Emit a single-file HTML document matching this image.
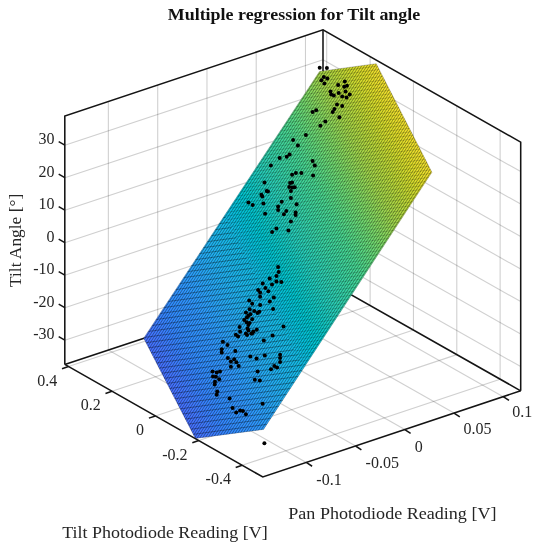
<!DOCTYPE html>
<html><head><meta charset="utf-8"><title>Multiple regression for Tilt angle</title>
<style>
html,body{margin:0;padding:0;background:#fff}
svg{display:block;font-family:"Liberation Serif",serif}
.g{stroke:#000;stroke-opacity:.19;stroke-width:1.1;fill:none}
.b{stroke:#141414;stroke-width:1.55;fill:none;stroke-linejoin:miter}
</style></head><body>
<svg width="539" height="550" viewBox="0 0 539 550">
<rect width="539" height="550" fill="#fff"/>
<g><line class="g" x1="306.3" y1="462.46" x2="108.35" y2="349.98"/><line class="g" x1="108.35" y1="349.98" x2="108.35" y2="101.28"/><line class="g" x1="355.6" y1="445.98" x2="157.71" y2="333.63"/><line class="g" x1="157.71" y1="333.63" x2="157.71" y2="84.93"/><line class="g" x1="404.8" y1="429.54" x2="206.97" y2="317.32"/><line class="g" x1="206.97" y1="317.32" x2="206.97" y2="68.62"/><line class="g" x1="454" y1="413.09" x2="256.22" y2="301.01"/><line class="g" x1="256.22" y1="301.01" x2="256.22" y2="52.31"/><line class="g" x1="503.2" y1="396.65" x2="305.48" y2="284.7"/><line class="g" x1="305.48" y1="284.7" x2="305.48" y2="36"/><line class="g" x1="68.5" y1="366.5" x2="326.69" y2="280.99"/><line class="g" x1="326.69" y1="280.99" x2="326.69" y2="32.29"/><line class="g" x1="112" y1="391.24" x2="370.13" y2="305.58"/><line class="g" x1="370.13" y1="305.58" x2="370.13" y2="56.88"/><line class="g" x1="155.4" y1="415.92" x2="413.46" y2="330.1"/><line class="g" x1="413.46" y1="330.1" x2="413.46" y2="81.4"/><line class="g" x1="198.8" y1="440.6" x2="456.8" y2="354.63"/><line class="g" x1="456.8" y1="354.63" x2="456.8" y2="105.93"/><line class="g" x1="242.2" y1="465.29" x2="500.13" y2="379.16"/><line class="g" x1="500.13" y1="379.16" x2="500.13" y2="130.46"/><line class="g" x1="64.8" y1="145.2" x2="323" y2="59.7"/><line class="g" x1="323" y1="59.7" x2="520.7" y2="171.6"/><line class="g" x1="64.8" y1="177.7" x2="323" y2="92.2"/><line class="g" x1="323" y1="92.2" x2="520.7" y2="204.1"/><line class="g" x1="64.8" y1="210.2" x2="323" y2="124.7"/><line class="g" x1="323" y1="124.7" x2="520.7" y2="236.6"/><line class="g" x1="64.8" y1="242.7" x2="323" y2="157.2"/><line class="g" x1="323" y1="157.2" x2="520.7" y2="269.1"/><line class="g" x1="64.8" y1="275.2" x2="323" y2="189.7"/><line class="g" x1="323" y1="189.7" x2="520.7" y2="301.6"/><line class="g" x1="64.8" y1="307.7" x2="323" y2="222.2"/><line class="g" x1="323" y1="222.2" x2="520.7" y2="334.1"/><line class="g" x1="64.8" y1="340.2" x2="323" y2="254.7"/><line class="g" x1="323" y1="254.7" x2="520.7" y2="366.6"/></g>
<g><polyline class="b" points="64.8,364.4 64.8,116.1 323,29.8 520.7,142.2 520.7,390.8"/><polyline class="b" points="64.8,364.4 323,278.9 520.7,390.8"/><line class="b" x1="323" y1="278.9" x2="323" y2="29.8"/></g>
<defs><linearGradient id="pg" gradientUnits="userSpaceOnUse" x1="143.7" y1="338.2" x2="438.91" y2="185.88"><stop offset="0" stop-color="#4770ff"/><stop offset="0.04" stop-color="#407aff"/><stop offset="0.08" stop-color="#3684ff"/><stop offset="0.12" stop-color="#318eff"/><stop offset="0.17" stop-color="#3096ff"/><stop offset="0.21" stop-color="#2c9ffd"/><stop offset="0.25" stop-color="#28a7f7"/><stop offset="0.29" stop-color="#23aff3"/><stop offset="0.33" stop-color="#1db6ee"/><stop offset="0.38" stop-color="#15bce7"/><stop offset="0.42" stop-color="#06c2dd"/><stop offset="0.46" stop-color="#02c7d2"/><stop offset="0.5" stop-color="#11cbc7"/><stop offset="0.54" stop-color="#25cfbc"/><stop offset="0.58" stop-color="#31d2af"/><stop offset="0.62" stop-color="#3bd6a2"/><stop offset="0.67" stop-color="#49d993"/><stop offset="0.71" stop-color="#5ddb82"/><stop offset="0.75" stop-color="#73db70"/><stop offset="0.79" stop-color="#8bda5e"/><stop offset="0.83" stop-color="#a3d84c"/><stop offset="0.88" stop-color="#bada3b"/><stop offset="0.92" stop-color="#cfdd2f"/><stop offset="0.96" stop-color="#e3e02a"/><stop offset="1" stop-color="#f4e32f"/></linearGradient><clipPath id="cp"><polygon points="143.7,338.2 319.5,71.4 376.2,63.7 431.9,172.3 263.5,429.4 195.4,438.4"/></clipPath></defs>
<polygon points="143.7,338.2 319.5,71.4 376.2,63.7 431.9,172.3 263.5,429.4 195.4,438.4" fill="url(#pg)"/>
<defs><clipPath id="c1"><polygon points="143.7,338.2 224.74,215.21 303.64,368.12 263.5,429.4 195.4,438.4"/></clipPath><clipPath id="c2"><polygon points="224.74,215.21 319.5,71.4 376.2,63.7 431.9,172.3 303.64,368.12"/></clipPath></defs>
<g clip-path="url(#c1)" fill="none" stroke="#000"><path d="M-127.15 200L-291.41 450M-124.48 200L-288.74 450M-121.81 200L-286.07 450M-119.14 200L-283.4 450M-116.47 200L-280.73 450M-113.8 200L-278.06 450M-111.13 200L-275.39 450M-108.46 200L-272.72 450M-105.79 200L-270.05 450M-103.12 200L-267.38 450M-100.45 200L-264.71 450M-97.78 200L-262.04 450M-95.11 200L-259.37 450M-92.44 200L-256.7 450M-89.77 200L-254.03 450M-87.1 200L-251.36 450M-84.43 200L-248.69 450M-81.76 200L-246.02 450M-79.09 200L-243.35 450M-76.42 200L-240.68 450M-73.75 200L-238.01 450M-71.08 200L-235.34 450M-68.41 200L-232.67 450M-65.74 200L-230 450M-63.07 200L-227.33 450M-60.4 200L-224.66 450M-57.73 200L-221.99 450M-55.06 200L-219.32 450M-52.39 200L-216.65 450M-49.72 200L-213.98 450M-47.05 200L-211.31 450M-44.38 200L-208.64 450M-41.71 200L-205.97 450M-39.04 200L-203.3 450M-36.37 200L-200.63 450M-33.7 200L-197.96 450M-31.03 200L-195.29 450M-28.36 200L-192.62 450M-25.69 200L-189.95 450M-23.02 200L-187.28 450M-20.35 200L-184.61 450M-17.68 200L-181.94 450M-15.01 200L-179.27 450M-12.34 200L-176.6 450M-9.67 200L-173.93 450M-7 200L-171.26 450M-4.33 200L-168.59 450M-1.66 200L-165.92 450M1.01 200L-163.25 450M3.68 200L-160.58 450M6.35 200L-157.91 450M9.02 200L-155.24 450M11.69 200L-152.57 450M14.36 200L-149.9 450M17.03 200L-147.23 450M19.7 200L-144.56 450M22.37 200L-141.89 450M25.04 200L-139.22 450M27.71 200L-136.55 450M30.38 200L-133.88 450M33.05 200L-131.21 450M35.72 200L-128.54 450M38.39 200L-125.87 450M41.06 200L-123.2 450M43.73 200L-120.53 450M46.4 200L-117.86 450M49.07 200L-115.19 450M51.74 200L-112.52 450M54.41 200L-109.85 450M57.08 200L-107.18 450M59.75 200L-104.51 450M62.42 200L-101.84 450M65.09 200L-99.17 450M67.76 200L-96.5 450M70.43 200L-93.83 450M73.1 200L-91.16 450M75.77 200L-88.49 450M78.44 200L-85.82 450M81.11 200L-83.15 450M83.78 200L-80.48 450M86.45 200L-77.81 450M89.12 200L-75.14 450M91.79 200L-72.47 450M94.46 200L-69.8 450M97.13 200L-67.13 450M99.8 200L-64.46 450M102.47 200L-61.79 450M105.14 200L-59.12 450M107.81 200L-56.45 450M110.48 200L-53.78 450M113.15 200L-51.11 450M115.82 200L-48.44 450M118.49 200L-45.77 450M121.16 200L-43.1 450M123.83 200L-40.43 450M126.5 200L-37.76 450M129.17 200L-35.09 450M131.84 200L-32.42 450M134.51 200L-29.75 450M137.18 200L-27.08 450M139.85 200L-24.41 450M142.52 200L-21.74 450M145.19 200L-19.07 450M147.86 200L-16.4 450M150.53 200L-13.73 450M153.2 200L-11.06 450M155.87 200L-8.39 450M158.54 200L-5.72 450M161.21 200L-3.05 450M163.88 200L-0.38 450M166.55 200L2.29 450M169.22 200L4.96 450M171.89 200L7.63 450M174.56 200L10.3 450M177.23 200L12.97 450M179.9 200L15.64 450M182.57 200L18.31 450M185.24 200L20.98 450M187.91 200L23.65 450M190.58 200L26.32 450M193.25 200L28.99 450M195.92 200L31.66 450M198.59 200L34.33 450M201.26 200L37 450M203.93 200L39.67 450M206.6 200L42.34 450M209.27 200L45.01 450M211.94 200L47.68 450M214.61 200L50.35 450M217.28 200L53.02 450M219.95 200L55.69 450M222.62 200L58.36 450M225.29 200L61.03 450M227.96 200L63.7 450M230.63 200L66.37 450M233.3 200L69.04 450M235.97 200L71.71 450M238.64 200L74.38 450M241.31 200L77.05 450M243.98 200L79.72 450M246.65 200L82.39 450M249.32 200L85.06 450M251.99 200L87.73 450M254.66 200L90.4 450M257.33 200L93.07 450M260 200L95.74 450M262.67 200L98.41 450M265.34 200L101.08 450M268.01 200L103.75 450M270.68 200L106.42 450M273.35 200L109.09 450M276.02 200L111.76 450M278.69 200L114.43 450M281.36 200L117.1 450M284.03 200L119.77 450M286.7 200L122.44 450M289.37 200L125.11 450M292.04 200L127.78 450M294.71 200L130.45 450M297.38 200L133.12 450M300.05 200L135.79 450M302.72 200L138.46 450M305.39 200L141.13 450M308.06 200L143.8 450M310.73 200L146.47 450M313.4 200L149.14 450M316.07 200L151.81 450M318.74 200L154.48 450M321.41 200L157.15 450M324.08 200L159.82 450M326.75 200L162.49 450M329.42 200L165.16 450M332.09 200L167.83 450M334.76 200L170.5 450M337.43 200L173.17 450M340.1 200L175.84 450M342.77 200L178.51 450M345.44 200L181.18 450M348.11 200L183.85 450M350.78 200L186.52 450M353.45 200L189.19 450M356.12 200L191.86 450M358.79 200L194.53 450M361.46 200L197.2 450M364.13 200L199.87 450M366.8 200L202.54 450M369.47 200L205.21 450M372.14 200L207.88 450M374.81 200L210.55 450M377.48 200L213.22 450M380.15 200L215.89 450M382.82 200L218.56 450M385.49 200L221.23 450M388.16 200L223.9 450M390.83 200L226.57 450M393.5 200L229.24 450M396.17 200L231.91 450M398.84 200L234.58 450M401.51 200L237.25 450M404.18 200L239.92 450M406.85 200L242.59 450M409.52 200L245.26 450M412.19 200L247.93 450M414.86 200L250.6 450M417.53 200L253.27 450M420.2 200L255.94 450M422.87 200L258.61 450M425.54 200L261.28 450M428.21 200L263.95 450M430.88 200L266.62 450M433.55 200L269.29 450M436.22 200L271.96 450M438.89 200L274.63 450M441.56 200L277.3 450M444.23 200L279.97 450M446.9 200L282.64 450M449.57 200L285.31 450M452.24 200L287.98 450M454.91 200L290.65 450M457.58 200L293.32 450M460.25 200L295.99 450M462.92 200L298.66 450M465.59 200L301.33 450M468.26 200L304 450M470.93 200L306.67 450M473.6 200L309.34 450M476.27 200L312.01 450M478.94 200L314.68 450M481.61 200L317.35 450M484.28 200L320.02 450M486.95 200L322.69 450M489.62 200L325.36 450M492.29 200L328.03 450M494.96 200L330.7 450M497.63 200L333.37 450M500.3 200L336.04 450M502.97 200L338.71 450M505.64 200L341.38 450M508.31 200L344.05 450M510.98 200L346.72 450M513.65 200L349.39 450M516.32 200L352.06 450M518.99 200L354.73 450M521.66 200L357.4 450M524.33 200L360.07 450M527 200L362.74 450M529.67 200L365.41 450M532.34 200L368.08 450M535.01 200L370.75 450M537.68 200L373.42 450M540.35 200L376.09 450M543.02 200L378.76 450M545.69 200L381.43 450M548.36 200L384.1 450M551.03 200L386.77 450M553.7 200L389.44 450M556.37 200L392.11 450M559.04 200L394.78 450M561.71 200L397.45 450M564.38 200L400.12 450M567.05 200L402.79 450M569.72 200L405.46 450M572.39 200L408.13 450M575.06 200L410.8 450M577.73 200L413.47 450M580.4 200L416.14 450M583.07 200L418.81 450M585.74 200L421.48 450M588.41 200L424.15 450M591.08 200L426.82 450M593.75 200L429.49 450M596.42 200L432.16 450M599.09 200L434.83 450M601.76 200L437.5 450M604.43 200L440.17 450M607.1 200L442.84 450M609.77 200L445.51 450M612.44 200L448.18 450M615.11 200L450.85 450M617.78 200L453.52 450M620.45 200L456.19 450M623.12 200L458.86 450M625.79 200L461.53 450M628.46 200L464.2 450M631.13 200L466.87 450M633.8 200L469.54 450M636.47 200L472.21 450M639.14 200L474.88 450M641.81 200L477.55 450M644.48 200L480.22 450M647.15 200L482.89 450M649.82 200L485.56 450M652.49 200L488.23 450M655.16 200L490.9 450M657.83 200L493.57 450M660.5 200L496.24 450M663.17 200L498.91 450M665.84 200L501.58 450M668.51 200L504.25 450M671.18 200L506.92 450" stroke-opacity="0.37" stroke-width="1.0"/><path d="M140 180L340 152.8M140 185.45L340 158.25M140 190.9L340 163.7M140 196.35L340 169.15M140 201.8L340 174.6M140 207.25L340 180.05M140 212.7L340 185.5M140 218.15L340 190.95M140 223.6L340 196.4M140 229.05L340 201.85M140 234.5L340 207.3M140 239.95L340 212.75M140 245.4L340 218.2M140 250.85L340 223.65M140 256.3L340 229.1M140 261.75L340 234.55M140 267.2L340 240M140 272.65L340 245.45M140 278.1L340 250.9M140 283.55L340 256.35M140 289L340 261.8M140 294.45L340 267.25M140 299.9L340 272.7M140 305.35L340 278.15M140 310.8L340 283.6M140 316.25L340 289.05M140 321.7L340 294.5M140 327.15L340 299.95M140 332.6L340 305.4M140 338.05L340 310.85M140 343.5L340 316.3M140 348.95L340 321.75M140 354.4L340 327.2M140 359.85L340 332.65M140 365.3L340 338.1M140 370.75L340 343.55M140 376.2L340 349M140 381.65L340 354.45M140 387.1L340 359.9M140 392.55L340 365.35M140 398L340 370.8M140 403.45L340 376.25M140 408.9L340 381.7M140 414.35L340 387.15M140 419.8L340 392.6M140 425.25L340 398.05M140 430.7L340 403.5M140 436.15L340 408.95M140 441.6L340 414.4M140 447.05L340 419.85M140 452.5L340 425.3M140 457.95L340 430.75M140 463.4L340 436.2M140 468.85L340 441.65M140 474.3L340 447.1M140 479.75L340 452.55M140 485.2L340 458M140 490.65L340 463.45M140 496.1L340 468.9M140 501.55L340 474.35M140 507L340 479.8M140 512.45L340 485.25M140 517.9L340 490.7M140 523.35L340 496.15M140 528.8L340 501.6" stroke-opacity="0.5" stroke-width="0.7"/></g>
<g clip-path="url(#c2)" fill="none" stroke="#000"><path d="M39.84 60L-183.55 400M42.51 60L-180.88 400M45.18 60L-178.21 400M47.85 60L-175.54 400M50.52 60L-172.87 400M53.19 60L-170.2 400M55.86 60L-167.53 400M58.53 60L-164.86 400M61.2 60L-162.19 400M63.87 60L-159.52 400M66.54 60L-156.85 400M69.21 60L-154.18 400M71.88 60L-151.51 400M74.55 60L-148.84 400M77.22 60L-146.17 400M79.89 60L-143.5 400M82.56 60L-140.83 400M85.23 60L-138.16 400M87.9 60L-135.49 400M90.57 60L-132.82 400M93.24 60L-130.15 400M95.91 60L-127.48 400M98.58 60L-124.81 400M101.25 60L-122.14 400M103.92 60L-119.47 400M106.59 60L-116.8 400M109.26 60L-114.13 400M111.93 60L-111.46 400M114.6 60L-108.79 400M117.27 60L-106.12 400M119.94 60L-103.45 400M122.61 60L-100.78 400M125.28 60L-98.11 400M127.95 60L-95.44 400M130.62 60L-92.77 400M133.29 60L-90.1 400M135.96 60L-87.43 400M138.63 60L-84.76 400M141.3 60L-82.09 400M143.97 60L-79.42 400M146.64 60L-76.75 400M149.31 60L-74.08 400M151.98 60L-71.41 400M154.65 60L-68.74 400M157.32 60L-66.07 400M159.99 60L-63.4 400M162.66 60L-60.73 400M165.33 60L-58.06 400M168 60L-55.39 400M170.67 60L-52.72 400M173.34 60L-50.05 400M176.01 60L-47.38 400M178.68 60L-44.71 400M181.35 60L-42.04 400M184.02 60L-39.37 400M186.69 60L-36.7 400M189.36 60L-34.03 400M192.03 60L-31.36 400M194.7 60L-28.69 400M197.37 60L-26.02 400M200.04 60L-23.35 400M202.71 60L-20.68 400M205.38 60L-18.01 400M208.05 60L-15.34 400M210.72 60L-12.67 400M213.39 60L-10 400M216.06 60L-7.33 400M218.73 60L-4.66 400M221.4 60L-1.99 400M224.07 60L0.68 400M226.74 60L3.35 400M229.41 60L6.02 400M232.08 60L8.69 400M234.75 60L11.36 400M237.42 60L14.03 400M240.09 60L16.7 400M242.76 60L19.37 400M245.43 60L22.04 400M248.1 60L24.71 400M250.77 60L27.38 400M253.44 60L30.05 400M256.11 60L32.72 400M258.78 60L35.39 400M261.45 60L38.06 400M264.12 60L40.73 400M266.79 60L43.4 400M269.46 60L46.07 400M272.13 60L48.74 400M274.8 60L51.41 400M277.47 60L54.08 400M280.14 60L56.75 400M282.81 60L59.42 400M285.48 60L62.09 400M288.15 60L64.76 400M290.82 60L67.43 400M293.49 60L70.1 400M296.16 60L72.77 400M298.83 60L75.44 400M301.5 60L78.11 400M304.17 60L80.78 400M306.84 60L83.45 400M309.51 60L86.12 400M312.18 60L88.79 400M314.85 60L91.46 400M317.52 60L94.13 400M320.19 60L96.8 400M322.86 60L99.47 400M325.53 60L102.14 400M328.2 60L104.81 400M330.87 60L107.48 400M333.54 60L110.15 400M336.21 60L112.82 400M338.88 60L115.49 400M341.55 60L118.16 400M344.22 60L120.83 400M346.89 60L123.5 400M349.56 60L126.17 400M352.23 60L128.84 400M354.9 60L131.51 400M357.57 60L134.18 400M360.24 60L136.85 400M362.91 60L139.52 400M365.58 60L142.19 400M368.25 60L144.86 400M370.92 60L147.53 400M373.59 60L150.2 400M376.26 60L152.87 400M378.93 60L155.54 400M381.6 60L158.21 400M384.27 60L160.88 400M386.94 60L163.55 400M389.61 60L166.22 400M392.28 60L168.89 400M394.95 60L171.56 400M397.62 60L174.23 400M400.29 60L176.9 400M402.96 60L179.57 400M405.63 60L182.24 400M408.3 60L184.91 400M410.97 60L187.58 400M413.64 60L190.25 400M416.31 60L192.92 400M418.98 60L195.59 400M421.65 60L198.26 400M424.32 60L200.93 400M426.99 60L203.6 400M429.66 60L206.27 400M432.33 60L208.94 400M435 60L211.61 400M437.67 60L214.28 400M440.34 60L216.95 400M443.01 60L219.62 400M445.68 60L222.29 400M448.35 60L224.96 400M451.02 60L227.63 400M453.69 60L230.3 400M456.36 60L232.97 400M459.03 60L235.64 400M461.7 60L238.31 400M464.37 60L240.98 400M467.04 60L243.65 400M469.71 60L246.32 400M472.38 60L248.99 400M475.05 60L251.66 400M477.72 60L254.33 400M480.39 60L257 400M483.06 60L259.67 400M485.73 60L262.34 400M488.4 60L265.01 400M491.07 60L267.68 400M493.74 60L270.35 400M496.41 60L273.02 400M499.08 60L275.69 400M501.75 60L278.36 400M504.42 60L281.03 400M507.09 60L283.7 400M509.76 60L286.37 400M512.43 60L289.04 400M515.1 60L291.71 400M517.77 60L294.38 400M520.44 60L297.05 400M523.11 60L299.72 400M525.78 60L302.39 400M528.45 60L305.06 400M531.12 60L307.73 400M533.79 60L310.4 400M536.46 60L313.07 400M539.13 60L315.74 400M541.8 60L318.41 400M544.47 60L321.08 400M547.14 60L323.75 400M549.81 60L326.42 400M552.48 60L329.09 400M555.15 60L331.76 400M557.82 60L334.43 400M560.49 60L337.1 400M563.16 60L339.77 400M565.83 60L342.44 400M568.5 60L345.11 400M571.17 60L347.78 400M573.84 60L350.45 400M576.51 60L353.12 400M579.18 60L355.79 400M581.85 60L358.46 400M584.52 60L361.13 400M587.19 60L363.8 400M589.86 60L366.47 400M592.53 60L369.14 400M595.2 60L371.81 400M597.87 60L374.48 400M600.54 60L377.15 400M603.21 60L379.82 400M605.88 60L382.49 400M608.55 60L385.16 400M611.22 60L387.83 400M613.89 60L390.5 400M616.56 60L393.17 400M619.23 60L395.84 400M621.9 60L398.51 400M624.57 60L401.18 400M627.24 60L403.85 400M629.91 60L406.52 400M632.58 60L409.19 400M635.25 60L411.86 400M637.92 60L414.53 400M640.59 60L417.2 400M643.26 60L419.87 400M645.93 60L422.54 400M648.6 60L425.21 400M651.27 60L427.88 400M653.94 60L430.55 400M656.61 60L433.22 400M659.28 60L435.89 400M661.95 60L438.56 400M664.62 60L441.23 400M667.29 60L443.9 400M669.96 60L446.57 400M672.63 60L449.24 400M675.3 60L451.91 400M677.97 60L454.58 400M680.64 60L457.25 400M683.31 60L459.92 400M685.98 60L462.59 400M688.65 60L465.26 400M691.32 60L467.93 400M693.99 60L470.6 400M696.66 60L473.27 400M699.33 60L475.94 400M702 60L478.61 400M704.67 60L481.28 400M707.34 60L483.95 400M710.01 60L486.62 400M712.68 60L489.29 400M715.35 60L491.96 400M718.02 60L494.63 400M720.69 60L497.3 400M723.36 60L499.97 400M726.03 60L502.64 400M728.7 60L505.31 400M731.37 60L507.98 400M734.04 60L510.65 400M736.71 60L513.32 400M739.38 60L515.99 400M742.05 60L518.66 400M744.72 60L521.33 400M747.39 60L524 400M750.06 60L526.67 400M752.73 60L529.34 400M755.4 60L532.01 400M758.07 60L534.68 400M760.74 60L537.35 400M763.41 60L540.02 400M766.08 60L542.69 400M768.75 60L545.36 400M771.42 60L548.03 400M774.09 60L550.7 400M776.76 60L553.37 400M779.43 60L556.04 400M782.1 60L558.71 400M784.77 60L561.38 400M787.44 60L564.05 400M790.11 60L566.72 400M792.78 60L569.39 400M795.45 60L572.06 400M798.12 60L574.73 400M800.79 60L577.4 400M803.46 60L580.07 400M806.13 60L582.74 400M808.8 60L585.41 400M811.47 60L588.08 400M814.14 60L590.75 400M816.81 60L593.42 400M819.48 60L596.09 400M822.15 60L598.76 400M824.82 60L601.43 400M827.49 60L604.1 400M830.16 60L606.77 400M832.83 60L609.44 400M835.5 60L612.11 400M838.17 60L614.78 400M840.84 60L617.45 400M843.51 60L620.12 400M846.18 60L622.79 400M848.85 60L625.46 400M851.52 60L628.13 400M854.19 60L630.8 400M856.86 60L633.47 400M859.53 60L636.14 400" stroke-opacity="0.37" stroke-width="1.0"/><path d="M215 40L435 10.08M215 43.7L435 13.78M215 47.4L435 17.48M215 51.1L435 21.18M215 54.8L435 24.88M215 58.5L435 28.58M215 62.2L435 32.28M215 65.9L435 35.98M215 69.6L435 39.68M215 73.3L435 43.38M215 77L435 47.08M215 80.7L435 50.78M215 84.4L435 54.48M215 88.1L435 58.18M215 91.8L435 61.88M215 95.5L435 65.58M215 99.2L435 69.28M215 102.9L435 72.98M215 106.6L435 76.68M215 110.3L435 80.38M215 114L435 84.08M215 117.7L435 87.78M215 121.4L435 91.48M215 125.1L435 95.18M215 128.8L435 98.88M215 132.5L435 102.58M215 136.2L435 106.28M215 139.9L435 109.98M215 143.6L435 113.68M215 147.3L435 117.38M215 151L435 121.08M215 154.7L435 124.78M215 158.4L435 128.48M215 162.1L435 132.18M215 165.8L435 135.88M215 169.5L435 139.58M215 173.2L435 143.28M215 176.9L435 146.98M215 180.6L435 150.68M215 184.3L435 154.38M215 188L435 158.08M215 191.7L435 161.78M215 195.4L435 165.48M215 199.1L435 169.18M215 202.8L435 172.88M215 206.5L435 176.58M215 210.2L435 180.28M215 213.9L435 183.98M215 217.6L435 187.68M215 221.3L435 191.38M215 225L435 195.08M215 228.7L435 198.78M215 232.4L435 202.48M215 236.1L435 206.18M215 239.8L435 209.88M215 243.5L435 213.58M215 247.2L435 217.28M215 250.9L435 220.98M215 254.6L435 224.68M215 258.3L435 228.38M215 262L435 232.08M215 265.7L435 235.78M215 269.4L435 239.48M215 273.1L435 243.18M215 276.8L435 246.88M215 280.5L435 250.58M215 284.2L435 254.28M215 287.9L435 257.98M215 291.6L435 261.68M215 295.3L435 265.38M215 299L435 269.08M215 302.7L435 272.78M215 306.4L435 276.48M215 310.1L435 280.18M215 313.8L435 283.88M215 317.5L435 287.58M215 321.2L435 291.28M215 324.9L435 294.98M215 328.6L435 298.68M215 332.3L435 302.38M215 336L435 306.08M215 339.7L435 309.78M215 343.4L435 313.48M215 347.1L435 317.18M215 350.8L435 320.88M215 354.5L435 324.58M215 358.2L435 328.28M215 361.9L435 331.98M215 365.6L435 335.68M215 369.3L435 339.38M215 373L435 343.08M215 376.7L435 346.78M215 380.4L435 350.48M215 384.1L435 354.18M215 387.8L435 357.88M215 391.5L435 361.58M215 395.2L435 365.28M215 398.9L435 368.98M215 402.6L435 372.68M215 406.3L435 376.38M215 410L435 380.08M215 413.7L435 383.78M215 417.4L435 387.48M215 421.1L435 391.18M215 424.8L435 394.88M215 428.5L435 398.58M215 432.2L435 402.28M215 435.9L435 405.98M215 439.6L435 409.68M215 443.3L435 413.38M215 447L435 417.08M215 450.7L435 420.78M215 454.4L435 424.48M215 458.1L435 428.18M215 461.8L435 431.88M215 465.5L435 435.58M215 469.2L435 439.28M215 472.9L435 442.98M215 476.6L435 446.68" stroke-opacity="0.3" stroke-width="0.6"/></g>
<polygon points="143.7,338.2 319.5,71.4 376.2,63.7 431.9,172.3 263.5,429.4 195.4,438.4" fill="none" stroke="#000" stroke-opacity="0.35" stroke-width="0.6"/>
<g><polyline class="b" points="64.8,364.4 262.8,477 520.7,390.8"/><line class="b" x1="306.3" y1="462.46" x2="312.1" y2="466.26"/><line class="b" x1="355.6" y1="445.98" x2="361.4" y2="449.78"/><line class="b" x1="404.8" y1="429.54" x2="410.6" y2="433.34"/><line class="b" x1="454" y1="413.09" x2="459.8" y2="416.89"/><line class="b" x1="503.2" y1="396.65" x2="509" y2="400.45"/><line class="b" x1="68.5" y1="366.5" x2="62" y2="368.7"/><line class="b" x1="112" y1="391.24" x2="105.5" y2="393.44"/><line class="b" x1="155.4" y1="415.92" x2="148.9" y2="418.12"/><line class="b" x1="198.8" y1="440.6" x2="192.3" y2="442.8"/><line class="b" x1="242.2" y1="465.29" x2="235.7" y2="467.49"/><line class="b" x1="64.8" y1="145.2" x2="58.7" y2="141.7"/><line class="b" x1="64.8" y1="177.7" x2="58.7" y2="174.2"/><line class="b" x1="64.8" y1="210.2" x2="58.7" y2="206.7"/><line class="b" x1="64.8" y1="242.7" x2="58.7" y2="239.2"/><line class="b" x1="64.8" y1="275.2" x2="58.7" y2="271.7"/><line class="b" x1="64.8" y1="307.7" x2="58.7" y2="304.2"/><line class="b" x1="64.8" y1="340.2" x2="58.7" y2="336.7"/></g>
<g fill="#000"><circle cx="319.7" cy="67.7" r="2"/><circle cx="326.9" cy="68.0" r="2"/><circle cx="323.8" cy="77.1" r="2"/><circle cx="327.3" cy="78.6" r="2"/><circle cx="321.4" cy="80.3" r="2"/><circle cx="324.4" cy="83.6" r="2"/><circle cx="344.8" cy="81.6" r="2"/><circle cx="338.1" cy="85.1" r="2"/><circle cx="344.2" cy="86.8" r="2"/><circle cx="347.0" cy="85.8" r="2"/><circle cx="345.5" cy="91.4" r="2"/><circle cx="330.5" cy="91.6" r="2"/><circle cx="338.7" cy="92.9" r="2"/><circle cx="331.2" cy="94.6" r="2"/><circle cx="333.8" cy="95.5" r="2"/><circle cx="349.7" cy="94.6" r="2"/><circle cx="342.2" cy="96.6" r="2"/><circle cx="346.5" cy="97.6" r="2"/><circle cx="337.0" cy="104.4" r="2"/><circle cx="342.2" cy="105.9" r="2"/><circle cx="334.4" cy="108.9" r="2"/><circle cx="332.7" cy="111.9" r="2"/><circle cx="316.2" cy="110.2" r="2"/><circle cx="312.6" cy="112.1" r="2"/><circle cx="339.4" cy="117.3" r="2"/><circle cx="325.3" cy="121.5" r="2"/><circle cx="320.4" cy="125.8" r="2"/><circle cx="305.9" cy="135.0" r="2"/><circle cx="293.1" cy="140.0" r="2"/><circle cx="297.9" cy="145.6" r="2"/><circle cx="289.6" cy="154.6" r="2"/><circle cx="286.7" cy="156.7" r="2"/><circle cx="279.7" cy="158.1" r="2"/><circle cx="312.6" cy="160.9" r="2"/><circle cx="314.8" cy="165.6" r="2"/><circle cx="270.9" cy="165.4" r="2"/><circle cx="295.9" cy="172.9" r="2"/><circle cx="301.4" cy="173.1" r="2"/><circle cx="292.1" cy="174.8" r="2"/><circle cx="313.1" cy="175.4" r="2"/><circle cx="264.5" cy="182.6" r="2"/><circle cx="290.1" cy="183.1" r="2"/><circle cx="292.1" cy="182.6" r="2"/><circle cx="289.2" cy="187.1" r="2"/><circle cx="294.7" cy="187.3" r="2"/><circle cx="290.9" cy="191.0" r="2"/><circle cx="266.7" cy="191.0" r="2"/><circle cx="261.4" cy="194.8" r="2"/><circle cx="262.3" cy="196.6" r="2"/><circle cx="290.9" cy="198.0" r="2"/><circle cx="281.7" cy="201.8" r="2"/><circle cx="296.6" cy="204.3" r="2"/><circle cx="263.4" cy="203.4" r="2"/><circle cx="248.4" cy="202.5" r="2"/><circle cx="252.7" cy="205.0" r="2"/><circle cx="278.1" cy="206.4" r="2"/><circle cx="278.1" cy="210.0" r="2"/><circle cx="286.3" cy="210.9" r="2"/><circle cx="265.1" cy="213.7" r="2"/><circle cx="283.9" cy="214.2" r="2"/><circle cx="295.6" cy="212.5" r="2"/><circle cx="295.6" cy="215.0" r="2"/><circle cx="290.9" cy="221.4" r="2"/><circle cx="276.4" cy="228.4" r="2"/><circle cx="272.1" cy="232.1" r="2"/><circle cx="288.4" cy="230.4" r="2"/><circle cx="278.1" cy="267.1" r="2"/><circle cx="278.7" cy="272.1" r="2"/><circle cx="276.5" cy="276.1" r="2"/><circle cx="269.7" cy="278.6" r="2"/><circle cx="276.4" cy="281.6" r="2"/><circle cx="281.3" cy="281.9" r="2"/><circle cx="262.7" cy="283.6" r="2"/><circle cx="272.0" cy="284.5" r="2"/><circle cx="265.4" cy="288.0" r="2"/><circle cx="258.1" cy="290.0" r="2"/><circle cx="268.4" cy="291.2" r="2"/><circle cx="260.1" cy="292.5" r="2"/><circle cx="260.1" cy="296.7" r="2"/><circle cx="273.8" cy="297.5" r="2"/><circle cx="249.2" cy="300.5" r="2"/><circle cx="269.8" cy="301.4" r="2"/><circle cx="252.2" cy="303.7" r="2"/><circle cx="260.1" cy="305.1" r="2"/><circle cx="273.1" cy="308.9" r="2"/><circle cx="249.7" cy="309.2" r="2"/><circle cx="254.2" cy="310.9" r="2"/><circle cx="259.3" cy="311.7" r="2"/><circle cx="245.9" cy="312.6" r="2"/><circle cx="248.4" cy="315.6" r="2"/><circle cx="252.2" cy="319.2" r="2"/><circle cx="244.2" cy="320.1" r="2"/><circle cx="246.7" cy="322.2" r="2"/><circle cx="248.4" cy="325.1" r="2"/><circle cx="239.6" cy="327.1" r="2"/><circle cx="247.6" cy="328.4" r="2"/><circle cx="256.8" cy="329.8" r="2"/><circle cx="253.4" cy="331.4" r="2"/><circle cx="240.1" cy="331.8" r="2"/><circle cx="251.4" cy="333.4" r="2"/><circle cx="245.9" cy="333.4" r="2"/><circle cx="235.9" cy="334.8" r="2"/><circle cx="238.1" cy="336.4" r="2"/><circle cx="283.5" cy="326.4" r="2"/><circle cx="272.6" cy="335.6" r="2"/><circle cx="263.8" cy="340.4" r="2"/><circle cx="222.9" cy="341.8" r="2"/><circle cx="227.5" cy="345.1" r="2"/><circle cx="221.7" cy="349.3" r="2"/><circle cx="221.7" cy="352.4" r="2"/><circle cx="235.3" cy="351.1" r="2"/><circle cx="264.8" cy="355.4" r="2"/><circle cx="250.3" cy="356.4" r="2"/><circle cx="256.6" cy="358.6" r="2"/><circle cx="227.9" cy="358.0" r="2"/><circle cx="234.2" cy="359.3" r="2"/><circle cx="230.9" cy="361.6" r="2"/><circle cx="236.4" cy="362.3" r="2"/><circle cx="280.1" cy="354.8" r="2"/><circle cx="280.1" cy="358.0" r="2"/><circle cx="280.1" cy="361.9" r="2"/><circle cx="238.7" cy="365.9" r="2"/><circle cx="230.9" cy="366.7" r="2"/><circle cx="274.3" cy="365.9" r="2"/><circle cx="277.1" cy="367.5" r="2"/><circle cx="271.0" cy="369.2" r="2"/><circle cx="257.6" cy="371.4" r="2"/><circle cx="212.5" cy="371.4" r="2"/><circle cx="216.7" cy="372.5" r="2"/><circle cx="220.0" cy="371.4" r="2"/><circle cx="213.0" cy="376.4" r="2"/><circle cx="215.9" cy="376.7" r="2"/><circle cx="219.2" cy="379.2" r="2"/><circle cx="215.0" cy="381.7" r="2"/><circle cx="214.7" cy="384.6" r="2"/><circle cx="254.8" cy="379.7" r="2"/><circle cx="259.8" cy="380.4" r="2"/><circle cx="217.2" cy="391.4" r="2"/><circle cx="216.7" cy="394.7" r="2"/><circle cx="229.6" cy="398.4" r="2"/><circle cx="262.6" cy="403.8" r="2"/><circle cx="232.6" cy="408.1" r="2"/><circle cx="236.2" cy="412.6" r="2"/><circle cx="240.1" cy="410.4" r="2"/><circle cx="242.9" cy="410.9" r="2"/><circle cx="245.9" cy="414.3" r="2"/><circle cx="264.4" cy="443.2" r="2"/><circle cx="250.5" cy="314.2" r="2"/><circle cx="257.5" cy="312.9" r="2"/><circle cx="246.9" cy="317.6" r="2"/><circle cx="249.6" cy="323.0" r="2"/><circle cx="247.1" cy="335.1" r="2"/><circle cx="252.1" cy="333.4" r="2"/><circle cx="248.5" cy="330.5" r="2"/><circle cx="268.0" cy="191.4" r="2"/><circle cx="292.3" cy="187.6" r="2"/></g>
<g fill="#262626"><text x="294" y="20" text-anchor="middle" font-weight="bold" font-size="16.5" fill="#111" textLength="252.5" lengthAdjust="spacingAndGlyphs">Multiple regression for Tilt angle</text><text x="62.2" y="537.8" font-size="16.6" textLength="205.5" lengthAdjust="spacingAndGlyphs">Tilt Photodiode Reading [V]</text><text x="288.3" y="518.6" font-size="16.6" textLength="208.2" lengthAdjust="spacingAndGlyphs">Pan Photodiode Reading [V]</text><text transform="translate(21.1,287.0) rotate(-90)" font-size="16.6" textLength="93.2" lengthAdjust="spacingAndGlyphs">Tilt Angle [°]</text><text x="54.6" y="144.1" text-anchor="end" font-size="16">30</text><text x="54.6" y="176.6" text-anchor="end" font-size="16">20</text><text x="54.6" y="209.1" text-anchor="end" font-size="16">10</text><text x="54.6" y="241.6" text-anchor="end" font-size="16">0</text><text x="54.6" y="274.1" text-anchor="end" font-size="16">-10</text><text x="54.6" y="306.6" text-anchor="end" font-size="16">-20</text><text x="54.6" y="339.1" text-anchor="end" font-size="16">-30</text><text x="57.2" y="385.5" text-anchor="end" font-size="16">0.4</text><text x="100.7" y="410.24" text-anchor="end" font-size="16">0.2</text><text x="144.1" y="434.92" text-anchor="end" font-size="16">0</text><text x="187.5" y="459.6" text-anchor="end" font-size="16">-0.2</text><text x="230.9" y="484.29" text-anchor="end" font-size="16">-0.4</text><text x="316.3" y="484.76" font-size="16">-0.1</text><text x="365.6" y="468.28" font-size="16">-0.05</text><text x="414.8" y="451.84" font-size="16">0</text><text x="463.6" y="434.49" font-size="16">0.05</text><text x="512.2" y="417.35" font-size="16">0.1</text></g>
</svg>
</body></html>
